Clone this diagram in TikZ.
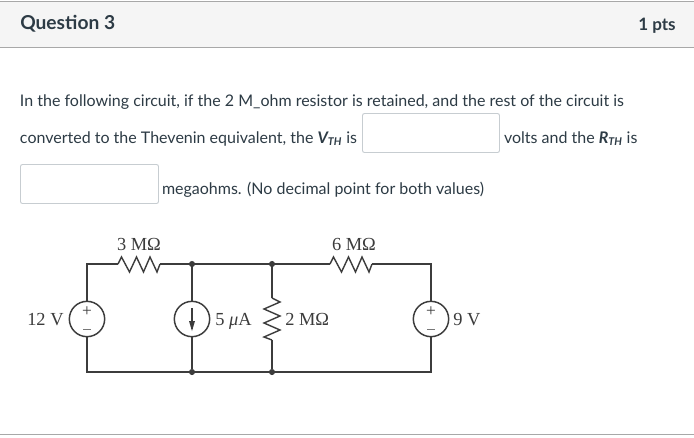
\documentclass[tikz,border=0pt]{standalone}
\usepackage{fontspec}
\setmainfont{Lato}
\newfontfamily\circfont{Liberation Serif}
\definecolor{txt}{HTML}{2D3B45}
\definecolor{wire}{HTML}{3C3C3C}
\definecolor{rulec}{HTML}{A8A8A8}
\definecolor{band}{HTML}{F5F5F5}
\definecolor{boxc}{HTML}{C7CDD1}
\tikzset{
  body/.style={anchor=base west,inner sep=0pt,outer sep=0pt,text=txt,font=\fontsize{12}{14}\selectfont},
  titletext/.style={anchor=base west,inner sep=0pt,text=txt,font=\fontsize{14.4}{16}\selectfont\bfseries},
  pts/.style={anchor=base east,inner sep=0pt,text=txt,font=\fontsize{12.8}{14}\selectfont\bfseries},
  clabel/.style={inner sep=0pt,text=wire,anchor=base,font=\circfont\fontsize{13.8}{15}\selectfont},
  wireline/.style={draw=wire,line width=1.05pt,line join=miter},
  srccircle/.style={circle,draw=wire,line width=1.1pt,minimum size=26.5pt,inner sep=0pt,fill=white},
  dot/.style={circle,fill=wire,inner sep=0pt,minimum size=4.6pt},
  answerbox/.style={draw=boxc,line width=0.7pt,rounded corners=1.5pt,fill=white},
  sign/.style={inner sep=0pt,text=wire,font=\circfont\fontsize{13}{13}\selectfont}
}
\begin{document}
\begin{tikzpicture}[x=0.75pt,y=-0.75pt]
\useasboundingbox (0,0) rectangle (694,437);
\fill[white] (0,0) rectangle (694,437);
% header
\fill[band] (0,1) rectangle (694,47);
\draw[rulec,line width=0.8pt] (0,1.3) -- (694,1.3);
\draw[rulec,line width=0.8pt] (0,47.3) -- (694,47.3);
\draw[rulec,line width=0.8pt] (0,434.3) -- (694,434.3);
\node[titletext] (title) at (20,29) {Question 3};
\node[pts] (points) at (676,30) {1 pts};
% text
\node[body] (l1) at (20,106) {In the following circuit, if the 2 M\_ohm resistor is retained, and the rest of the circuit is};
\node[body] (l2) at (20,143) {converted to the Thevenin equivalent, the \textbf{\textit{V\textsubscript{TH}}} is};
\node[body] (l2b) at (504,143) {volts and the \textbf{\textit{R\textsubscript{TH}}} is};
\node[body] (l3) at (162,194) {megaohms. (No decimal point for both values)};
\path[answerbox] (362.5,113.5) rectangle (499.5,152.5);
\path[answerbox] (20.5,164.5) rectangle (158.5,203.5);
% circuit
\coordinate (tl) at (87,264);
\coordinate (bl) at (87,372);
\coordinate (tr) at (431,264);
\coordinate (br) at (431,372);
\coordinate (ra1) at (118,264);
\coordinate (ra2) at (160,264);
\coordinate (rb1) at (330,264);
\coordinate (rb2) at (372,264);
\coordinate (rc1) at (272,298);
\coordinate (rc2) at (272,340);
\node[dot] (n1) at (192,264) {};
\node[dot] (n2) at (272,264) {};
\node[dot] (n3) at (192,372) {};
\node[dot] (n4) at (272,372) {};
\node[srccircle] (vs1) at (87,319) {};
\node[srccircle] (is1) at (192,319) {};
\node[srccircle] (vs2) at (431,319) {};
\draw[wireline] (vs1) -- (tl) -- (ra1);
\draw[wireline] (ra2) -- (n1) -- (n2) -- (rb1);
\draw[wireline] (rb2) -- (tr) -- (vs2);
\draw[wireline] (vs1) -- (bl) -- (n3) -- (n4) -- (br) -- (vs2);
\draw[wireline] (n1) -- (is1);
\draw[wireline] (is1) -- (n3);
\draw[wireline] (n2) -- (rc1);
\draw[wireline] (rc2) -- (n4);
% resistors
\draw[wireline] (ra1) -- ++(3.5,-7) -- ++(8,15) -- ++(7,-15) -- ++(7,15) -- ++(6.5,-15) -- ++(7,15) -- (ra2);
\draw[wireline] (rb1) -- ++(3.5,-7) -- ++(8,15) -- ++(7,-15) -- ++(7,15) -- ++(6.5,-15) -- ++(7,15) -- (rb2);
\draw[wireline] (rc1) -- ++(8,4) -- ++(-16,7) -- ++(16,7) -- ++(-16,7) -- ++(16,7) -- ++(-16,7) -- (rc2);
% source marks
\node[sign] (p1) at (87,312) {+};
\node[sign,text=wire!70] (m1) at (87,329) {\rule{6pt}{0.6pt}};
\node[sign] (p2) at (431,312) {+};
\node[sign,text=wire!70] (m2) at (431,329) {\rule{6pt}{0.6pt}};
\coordinate (a1) at (192,308);
\coordinate (a2) at (192,329);
\draw[wire,line width=0.9pt] (a1) -- (a2);
\fill[wire] (192,331) -- (189,321) -- (195,321) -- cycle;
% labels
\node[clabel] (la) at (139,250) {3 MΩ};
\node[clabel] (lb) at (354,250) {6 MΩ};
\node[clabel,anchor=base west] (lc) at (285,325) {2 MΩ};
\node[clabel,anchor=base west] (ld) at (215,325) {5 \textit{μ}A};
\node[clabel,anchor=base west] (le) at (27,325) {12 V};
\node[clabel,anchor=base west] (lf) at (453,325) {9 V};
\end{tikzpicture}
\end{document}
